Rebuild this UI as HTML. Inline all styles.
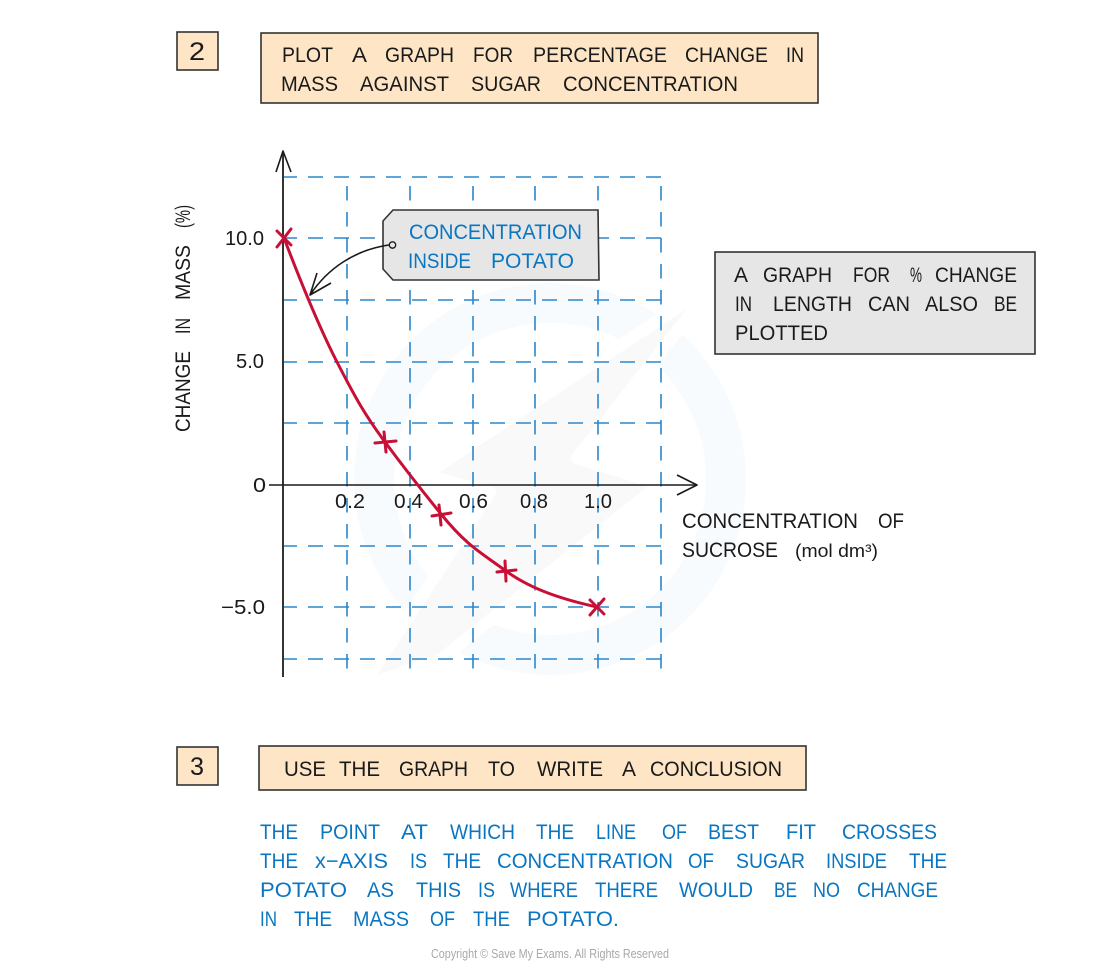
<!DOCTYPE html>
<html><head><meta charset="utf-8"><style>
html,body{margin:0;padding:0;background:#fff;width:1100px;height:974px;overflow:hidden}
svg{display:block}
text{font-family:"Liberation Sans",sans-serif;font-size:21px;fill:#1a1a1a}
.n text{font-size:20px}
.b text{fill:#0a76c2}
.g{stroke:#2a87cc;stroke-width:1.6;fill:none;stroke-dasharray:15 11}
.v{stroke:#2a87cc;stroke-width:1.6;fill:none;stroke-dasharray:14.500 11.500}
.k{stroke:#1a1a1a;stroke-width:1.6;fill:none}
.r{stroke:#c80f35;stroke-width:3;fill:none;stroke-linecap:round}
</style></head><body>
<svg width="1100" height="974" viewBox="0 0 1100 974" xmlns="http://www.w3.org/2000/svg">
<rect width="1100" height="974" fill="#fff"/>
<circle cx="550" cy="479" r="176" fill="none" stroke="#f8fbfd" stroke-width="40"/>
<polygon points="715,283 577,458 660,484 440,660 363,686 490,492 425,475 480,438" fill="#f9f9f9" stroke="#fff" stroke-width="12" stroke-linejoin="round"/>

<rect x="177" y="32" width="41" height="38" fill="#fde5c6" stroke="#333" stroke-width="1.6"/>
<text x="189" y="60" style="font-size:25px" textLength="16" lengthAdjust="spacingAndGlyphs">2</text>
<rect x="261" y="33" width="557" height="70" fill="#fde5c6" stroke="#333" stroke-width="1.6"/>
<text x="282" y="62" textLength="51" lengthAdjust="spacingAndGlyphs">PLOT</text>
<text x="352" y="62" textLength="15" lengthAdjust="spacingAndGlyphs">A</text>
<text x="385" y="62" textLength="69" lengthAdjust="spacingAndGlyphs">GRAPH</text>
<text x="473" y="62" textLength="40" lengthAdjust="spacingAndGlyphs">FOR</text>
<text x="533" y="62" textLength="134" lengthAdjust="spacingAndGlyphs">PERCENTAGE</text>
<text x="685" y="62" textLength="83" lengthAdjust="spacingAndGlyphs">CHANGE</text>
<text x="786" y="62" textLength="18" lengthAdjust="spacingAndGlyphs">IN</text>
<text x="281" y="91" textLength="57" lengthAdjust="spacingAndGlyphs">MASS</text>
<text x="360" y="91" textLength="89" lengthAdjust="spacingAndGlyphs">AGAINST</text>
<text x="471" y="91" textLength="70" lengthAdjust="spacingAndGlyphs">SUGAR</text>
<text x="563" y="91" textLength="175" lengthAdjust="spacingAndGlyphs">CONCENTRATION</text>

<path class="g" d="M282 177H661M282 238H661M282 300H661M282 362H661M282 423H661M282 546H661M282 607H661M282 659H661"/>
<path class="v" d="M347 186V669M410 186V669M473 186V669M535 186V669M598 186V669M661 186V669"/>

<path d="M283 152V677" stroke="#333" stroke-width="2" fill="none"/>
<path class="k" d="M269 485H697"/>
<path class="k" d="M276 172L283 151L291 172M677 475L697 485L677 495" stroke-linejoin="round"/>

<path class="r" d="M284 238C300 280 318 325 337 362S365 415 385 442S415 482 441 514S480 552 506 571S565 600 597 607"/>
<path class="r" d="M277 231L291 245M291 229L277 247M375 443L396 441M384 432L386 452M432 516L451 513M439 505L441 525M497 572L516 570M505 561L506 581M590 600L604 614M604 599L590 615"/>

<polygon points="393,210 598,210 599,280 393,280 383,269 383,221" fill="#e6e6e6" stroke="#333" stroke-width="1.6"/>
<circle cx="392.500" cy="245" r="3.200" fill="none" stroke="#1a1a1a" stroke-width="1.300"/>
<path class="k" d="M389 245C355 250 328 268 310 295M317 273L310 295L331 283" stroke-linejoin="round"/>
<g class="b">
<text x="409" y="239" textLength="173" lengthAdjust="spacingAndGlyphs">CONCENTRATION</text>
<text x="408" y="268" textLength="63" lengthAdjust="spacingAndGlyphs">INSIDE</text>
<text x="491" y="268" textLength="83" lengthAdjust="spacingAndGlyphs">POTATO</text>
</g>

<rect x="715" y="252" width="320" height="102" fill="#e6e6e6" stroke="#333" stroke-width="1.6"/>
<text x="734" y="282" textLength="14" lengthAdjust="spacingAndGlyphs">A</text>
<text x="763" y="282" textLength="69" lengthAdjust="spacingAndGlyphs">GRAPH</text>
<text x="853" y="282" textLength="37" lengthAdjust="spacingAndGlyphs">FOR</text>
<text x="910" y="282" textLength="12" lengthAdjust="spacingAndGlyphs">%</text>
<text x="935" y="282" textLength="82" lengthAdjust="spacingAndGlyphs">CHANGE</text>
<text x="735" y="311" textLength="17" lengthAdjust="spacingAndGlyphs">IN</text>
<text x="773" y="311" textLength="79" lengthAdjust="spacingAndGlyphs">LENGTH</text>
<text x="868" y="311" textLength="42" lengthAdjust="spacingAndGlyphs">CAN</text>
<text x="925" y="311" textLength="53" lengthAdjust="spacingAndGlyphs">ALSO</text>
<text x="994" y="311" textLength="23" lengthAdjust="spacingAndGlyphs">BE</text>
<text x="735" y="340" textLength="93" lengthAdjust="spacingAndGlyphs">PLOTTED</text>

<g transform="translate(190 433) rotate(-90)">
<text x="1" y="0" textLength="81" lengthAdjust="spacingAndGlyphs">CHANGE</text>
<text x="99" y="0" textLength="16" lengthAdjust="spacingAndGlyphs">IN</text>
<text x="133" y="0" textLength="55" lengthAdjust="spacingAndGlyphs">MASS</text>
<text x="205" y="0" textLength="23" lengthAdjust="spacingAndGlyphs">(%)</text>
</g>

<g class="n">
<text x="225" y="245" textLength="39" lengthAdjust="spacingAndGlyphs">10.0</text>
<text x="236" y="368" textLength="28" lengthAdjust="spacingAndGlyphs">5.0</text>
<text x="253" y="492" textLength="13" lengthAdjust="spacingAndGlyphs">0</text>
<text x="221" y="614" textLength="44" lengthAdjust="spacingAndGlyphs">−5.0</text>
<text x="335" y="508" textLength="30" lengthAdjust="spacingAndGlyphs">0.2</text>
<text x="394" y="508" textLength="29" lengthAdjust="spacingAndGlyphs">0.4</text>
<text x="459" y="508" textLength="29" lengthAdjust="spacingAndGlyphs">0.6</text>
<text x="520" y="508" textLength="28" lengthAdjust="spacingAndGlyphs">0.8</text>
<text x="584" y="508" textLength="28" lengthAdjust="spacingAndGlyphs">1.0</text>
</g>

<text x="682" y="528" textLength="176" lengthAdjust="spacingAndGlyphs">CONCENTRATION</text>
<text x="878" y="528" textLength="26" lengthAdjust="spacingAndGlyphs">OF</text>
<text x="682" y="557" textLength="96" lengthAdjust="spacingAndGlyphs">SUCROSE</text>
<text x="795" y="557" style="font-size:18px" textLength="83" lengthAdjust="spacingAndGlyphs">(mol dm³)</text>

<rect x="177" y="747" width="41" height="38" fill="#fde5c6" stroke="#333" stroke-width="1.6"/>
<text x="190" y="775" style="font-size:25px" textLength="14" lengthAdjust="spacingAndGlyphs">3</text>
<rect x="259" y="746" width="547" height="44" fill="#fde5c6" stroke="#333" stroke-width="1.6"/>
<text x="284" y="776" textLength="42" lengthAdjust="spacingAndGlyphs">USE</text>
<text x="339" y="776" textLength="41" lengthAdjust="spacingAndGlyphs">THE</text>
<text x="399" y="776" textLength="69" lengthAdjust="spacingAndGlyphs">GRAPH</text>
<text x="488" y="776" textLength="27" lengthAdjust="spacingAndGlyphs">TO</text>
<text x="537" y="776" textLength="66" lengthAdjust="spacingAndGlyphs">WRITE</text>
<text x="622" y="776" textLength="14" lengthAdjust="spacingAndGlyphs">A</text>
<text x="650" y="776" textLength="132" lengthAdjust="spacingAndGlyphs">CONCLUSION</text>

<g class="b">
<text x="260" y="839" textLength="38" lengthAdjust="spacingAndGlyphs">THE</text>
<text x="320" y="839" textLength="60" lengthAdjust="spacingAndGlyphs">POINT</text>
<text x="401" y="839" textLength="27" lengthAdjust="spacingAndGlyphs">AT</text>
<text x="450" y="839" textLength="65" lengthAdjust="spacingAndGlyphs">WHICH</text>
<text x="536" y="839" textLength="38" lengthAdjust="spacingAndGlyphs">THE</text>
<text x="596" y="839" textLength="40" lengthAdjust="spacingAndGlyphs">LINE</text>
<text x="662" y="839" textLength="25" lengthAdjust="spacingAndGlyphs">OF</text>
<text x="708" y="839" textLength="51" lengthAdjust="spacingAndGlyphs">BEST</text>
<text x="786" y="839" textLength="30" lengthAdjust="spacingAndGlyphs">FIT</text>
<text x="842" y="839" textLength="95" lengthAdjust="spacingAndGlyphs">CROSSES</text>
<text x="260" y="868" textLength="38" lengthAdjust="spacingAndGlyphs">THE</text>
<text x="315" y="868" textLength="73" lengthAdjust="spacingAndGlyphs">x−AXIS</text>
<text x="410" y="868" textLength="17" lengthAdjust="spacingAndGlyphs">IS</text>
<text x="443" y="868" textLength="38" lengthAdjust="spacingAndGlyphs">THE</text>
<text x="497" y="868" textLength="176" lengthAdjust="spacingAndGlyphs">CONCENTRATION</text>
<text x="688" y="868" textLength="26" lengthAdjust="spacingAndGlyphs">OF</text>
<text x="736" y="868" textLength="69" lengthAdjust="spacingAndGlyphs">SUGAR</text>
<text x="826" y="868" textLength="61" lengthAdjust="spacingAndGlyphs">INSIDE</text>
<text x="909" y="868" textLength="38" lengthAdjust="spacingAndGlyphs">THE</text>
<text x="260" y="897" textLength="87" lengthAdjust="spacingAndGlyphs">POTATO</text>
<text x="367" y="897" textLength="27" lengthAdjust="spacingAndGlyphs">AS</text>
<text x="416" y="897" textLength="45" lengthAdjust="spacingAndGlyphs">THIS</text>
<text x="478" y="897" textLength="17" lengthAdjust="spacingAndGlyphs">IS</text>
<text x="510" y="897" textLength="68" lengthAdjust="spacingAndGlyphs">WHERE</text>
<text x="595" y="897" textLength="63" lengthAdjust="spacingAndGlyphs">THERE</text>
<text x="679" y="897" textLength="74" lengthAdjust="spacingAndGlyphs">WOULD</text>
<text x="774" y="897" textLength="23" lengthAdjust="spacingAndGlyphs">BE</text>
<text x="813" y="897" textLength="27" lengthAdjust="spacingAndGlyphs">NO</text>
<text x="857" y="897" textLength="81" lengthAdjust="spacingAndGlyphs">CHANGE</text>
<text x="260" y="926" textLength="17" lengthAdjust="spacingAndGlyphs">IN</text>
<text x="294" y="926" textLength="38" lengthAdjust="spacingAndGlyphs">THE</text>
<text x="353" y="926" textLength="56" lengthAdjust="spacingAndGlyphs">MASS</text>
<text x="430" y="926" textLength="25" lengthAdjust="spacingAndGlyphs">OF</text>
<text x="473" y="926" textLength="37" lengthAdjust="spacingAndGlyphs">THE</text>
<text x="527" y="926" textLength="92" lengthAdjust="spacingAndGlyphs">POTATO.</text>
</g>

<text x="431" y="958" style="font-size:12.500px;fill:#a8a8a8" textLength="238" lengthAdjust="spacingAndGlyphs">Copyright © Save My Exams. All Rights Reserved</text>
</svg>
</body></html>
